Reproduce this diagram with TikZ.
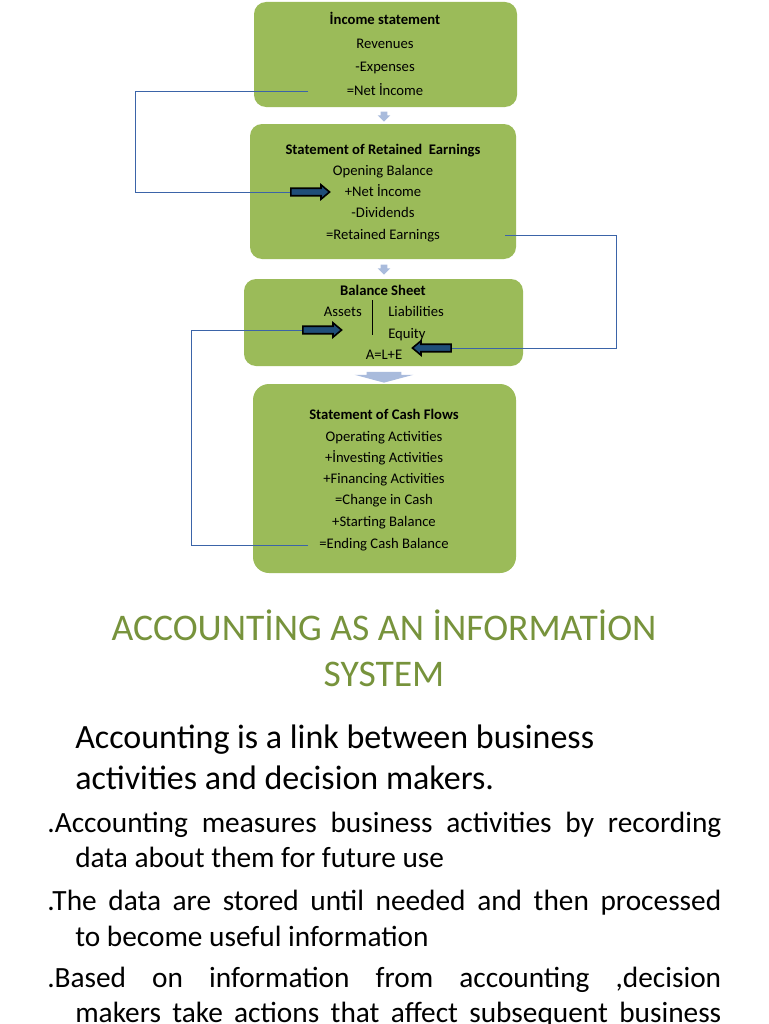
\documentclass[tikz,border=0pt]{standalone}
\usepackage{fontspec}
\setmainfont{Carlito}
\usetikzlibrary{shapes.arrows}

\definecolor{boxgreen}{HTML}{9BBB59}
\definecolor{titlegreen}{HTML}{77933C}
\definecolor{linkblue}{HTML}{3B64A8}
\definecolor{arrowblue}{HTML}{1F4E79}
\definecolor{flowblue}{HTML}{A9BBDC}

\tikzset{
  stmt/.style={fill=boxgreen, rounded corners=9pt},
  entry/.style={anchor=base, inner sep=0pt, font=\fontsize{11}{13}\selectfont},
  entryhead/.style={entry, font=\fontsize{11}{13}\selectfont\bfseries},
  link/.style={draw=linkblue, line width=0.6pt},
  blockarrow/.style={single arrow, fill=arrowblue, draw=black, line width=1.2pt,
    inner sep=2.2pt, minimum height=29pt, single arrow head extend=2.6pt,
    single arrow tip angle=80},
  flowarrow/.style={single arrow, fill=flowblue, shape border rotate=270,
    inner sep=2.25pt, minimum height=7.5pt, single arrow head extend=2.25pt},
  titletext/.style={anchor=base, inner sep=0pt, text=titlegreen,
    font=\fontsize{28.2}{34}\selectfont},
  lead/.style={anchor=base west, inner sep=0pt, font=\fontsize{25.5}{31}\selectfont},
  body/.style={anchor=base west, inner sep=0pt, font=\fontsize{22}{27}\selectfont}
}

\begin{document}
\begin{tikzpicture}[x=0.75pt, y=-0.75pt]
  \useasboundingbox (0,0) rectangle (768,1024);

  % statement boxes
  \fill[stmt] (254,2) rectangle (517,107);
  \fill[stmt] (250,124) rectangle (516,259);
  \fill[stmt] (244,279) rectangle (523,366);
  \fill[stmt, rounded corners=12pt] (253,384) rectangle (516,573);

  % income statement
  \node[entryhead] (inchead) at (385,25) {İncome statement};
  \node[entry] (rev) at (385,49) {Revenues};
  \node[entry] (exp) at (385,72) {-Expenses};
  \node[entry] (netinc) at (385,95) {=Net İncome};

  % retained earnings
  \node[entryhead] (rehead) at (383,154) {Statement of Retained~ Earnings};
  \node[entry] (openbal) at (383,175) {Opening Balance};
  \node[entry] (plusni) at (383,196) {+Net İncome};
  \node[entry] (divid) at (383,217) {-Dividends};
  \node[entry] (reteq) at (383,239) {=Retained Earnings};

  % balance sheet
  \node[entryhead] (bshead) at (383,295) {Balance Sheet};
  \node[entry, anchor=base east] (assets) at (362,316) {Assets};
  \node[entry, anchor=base west] (liab) at (388,316) {Liabilities};
  \node[entry, anchor=base west] (equity) at (388,338) {Equity};
  \node[entry] (ale) at (384,359) {A=L+E};
  \draw[line width=0.6pt] (372,300) -- (372,335);

  % flow between boxes
  \node[flowarrow, minimum width=9pt] (flow1) at (384,115) {};
  \node[flowarrow, minimum width=9pt] (flow2) at (384,268) {};
  \node[flowarrow, inner xsep=12.75pt, inner ysep=0pt, minimum height=8pt,
    single arrow head extend=9pt, single arrow tip angle=150] (flow3) at (384,375) {};

  % cash flows
  \node[entryhead] (cfhead) at (384,419) {Statement of Cash Flows};
  \node[entry] (opact) at (384,441) {Operating Activities};
  \node[entry] (invact) at (384,462) {+İnvesting Activities};
  \node[entry] (finact) at (384,483) {+Financing Activities};
  \node[entry] (chcash) at (384,504) {=Change in Cash};
  \node[entry] (startbal) at (384,526) {+Starting Balance};
  \node[entry] (endbal) at (384,548) {=Ending Cash Balance};

  % links
  \coordinate (niout) at (308,91);
  \coordinate (reout) at (505,235);
  \coordinate (ecout) at (308,545);

  \node[blockarrow] (push1) at (308,192) {};
  \node[blockarrow, shape border rotate=180] (push2) at (434,348) {};
  \node[blockarrow] (push3) at (320,330) {};

  \draw[link] (niout) -- ++(-173,0) |- (push1.tail);
  \draw[link] (reout) -- ++(111,0) |- (push2.tail);
  \draw[link] (ecout) -- ++(-117,0) |- (push3.tail);

  % title and text
  \node[titletext] (title1) at (384,640) {ACCOUNTİNG AS AN İNFORMATİON};
  \node[titletext] (title2) at (384,686) {SYSTEM};

  \node[lead] (lead1) at (75,748) {Accounting is a link between business};
  \node[lead] (lead2) at (75,789) {activities and decision makers.};

  \node[body] (pt1) at (47,832) {\makebox[505.5pt][s]{.Accounting measures business activities by recording}};
  \node[body] (pt1b) at (75,867) {data about them for future use};
  \node[body] (pt2) at (47,910) {\makebox[505.5pt][s]{.The data are stored until needed and then processed}};
  \node[body] (pt2b) at (75,946) {to become useful information};
  \node[body] (pt3) at (47,987) {\makebox[505.5pt][s]{.Based on information from accounting ,decision}};
  \node[body] (pt3b) at (75,1022) {\makebox[484.5pt][s]{makers take actions that affect subsequent business}};

\end{tikzpicture}
\end{document}
